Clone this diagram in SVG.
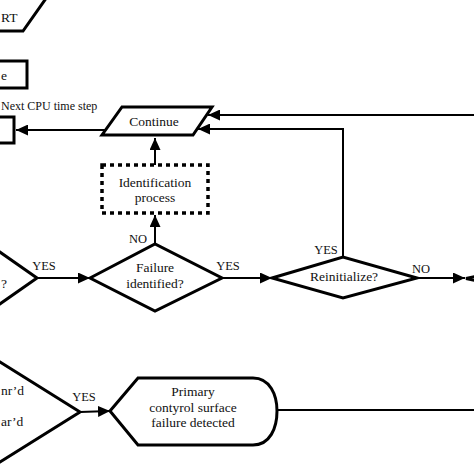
<svg xmlns="http://www.w3.org/2000/svg" width="474" height="474" viewBox="0 0 474 474">
<style>
.shape{fill:#fff;stroke:#000;stroke-width:3;stroke-linejoin:miter}
.dot{fill:#fff;stroke:#000;stroke-width:3.5;stroke-dasharray:4 4}
.conn{fill:none;stroke:#000;stroke-width:2}
.t{font-family:"Liberation Serif","Times New Roman",serif;font-size:13.5px;fill:#111;text-anchor:middle}
.lbl{font-family:"Liberation Serif","Times New Roman",serif;font-size:12.5px;fill:#111;text-anchor:middle}
.s{text-anchor:start}
</style>
<defs>
<marker id="ah" markerUnits="userSpaceOnUse" markerWidth="12" markerHeight="11" refX="12" refY="5.5" orient="auto">
<path d="M0,0 L12,5.5 L0,11 z" fill="#000"/>
</marker>
</defs>
<rect width="474" height="474" fill="#fff"/>

<g id="connectors">
<path class="conn" d="M474,115 L208,115" marker-end="url(#ah)"/>
<path class="conn" d="M343,257 L343,129 L198,129" marker-end="url(#ah)"/>
<path class="conn" d="M106,130 L16,130" marker-end="url(#ah)"/>
<path class="conn" d="M155,165 L155,138" marker-end="url(#ah)"/>
<path class="conn" d="M155,244 L155,215" marker-end="url(#ah)"/>
<path class="conn" d="M37,278 L90,278" marker-end="url(#ah)"/>
<path class="conn" d="M222,278 L272,278" marker-end="url(#ah)"/>
<path class="conn" d="M417,278 L465,278" marker-end="url(#ah)"/>
<path class="conn" d="M80,412 L110,411" marker-end="url(#ah)"/>
<path class="conn" d="M277,410 L474,410"/>
<text class="lbl" x="44" y="270">YES</text>
<text class="lbl" x="228" y="270">YES</text>
<text class="lbl" x="138" y="243">NO</text>
<text class="lbl" x="326" y="254">YES</text>
<text class="lbl" x="421" y="273">NO</text>
<text class="lbl" x="84" y="401">YES</text>
<text class="lbl s" x="1" y="110" style="font-size:12px">Next CPU time step</text>
</g>

<g id="start">
<polygon class="shape" points="-30,-3 47,-3 23,31 -54,31"/>
<text class="t s" x="1" y="22">RT</text>
</g>

<g id="box-e">
<rect class="shape" x="-60" y="61" width="87" height="27"/>
<text class="t s" x="1" y="80">e</text>
</g>

<g id="box-left">
<rect class="shape" x="-60" y="117" width="74" height="26"/>
</g>

<g id="continue">
<polygon class="shape" points="122,107 212,107 193,135 102,135"/>
<text class="t" x="154" y="126">Continue</text>
</g>

<g id="identification">
<rect class="dot" x="102" y="165" width="106" height="48"/>
<text class="t" x="155" y="187">Identification</text>
<text class="t" x="155" y="202">process</text>
</g>

<g id="left-decision">
<polygon class="shape" points="37,278 -40,224 -117,278 -40,332"/>
<text class="t s" x="1" y="288">?</text>
</g>

<g id="failure-identified">
<polygon class="shape" points="90,278 155,244 222,278 155,311"/>
<text class="t" x="155" y="272">Failure</text>
<text class="t" x="155" y="288">identified?</text>
</g>

<g id="reinitialize">
<polygon class="shape" points="272,278 343,257 417,278 343,298"/>
<text class="t" x="344" y="281">Reinitialize?</text>
</g>

<g id="right-decision">
<polyline class="shape" fill="none" points="478,276 466,278.5 478,281"/>
</g>

<g id="bottom-decision">
<polygon class="shape" points="80,412 -80,312 -240,412 -80,512"/>
<text class="t s" x="1" y="395">nr’d</text>
<text class="t s" x="1" y="426">ar’d</text>
</g>

<g id="primary-failure">
<path class="shape" d="M110,411 L138,378 L253,378 C270,378 277,395 277,411 C277,428 270,445 253,445 L138,445 Z"/>
<text class="t" x="193" y="396">Primary</text>
<text class="t" x="193" y="412">contyrol surface</text>
<text class="t" x="193" y="427">failure detected</text>
</g>
</svg>
